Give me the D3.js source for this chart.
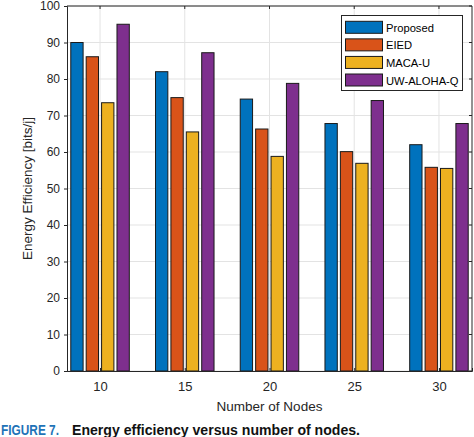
<!DOCTYPE html>
<html><head><meta charset="utf-8">
<script src="https://cdn.jsdelivr.net/npm/d3@7"></script>
<style>
html,body{margin:0;padding:0;background:#fff;}
svg{display:block;font-family:"Liberation Sans",Arial,sans-serif;}
</style></head>
<body>
<svg id="chart" width="474" height="437"></svg>
<script>
const nodes = [10, 15, 20, 25, 30];
const seriesNames = ["Proposed", "EIED", "MACA-U", "UW-ALOHA-Q"];
const proposed = [90.0, 82.0, 74.5, 67.8, 62.0];
const eied     = [86.1, 74.9, 66.3, 60.1, 55.8];
const macaU    = [73.5, 65.5, 58.8, 56.9, 55.5];
const uwAloha  = [95.0, 87.2, 78.8, 74.1, 67.8];
const yTicks = [0, 10, 20, 30, 40, 50, 60, 70, 80, 90, 100];
const colors = ["#0072BD", "#D95319", "#EDB120", "#7E2F8E"];

const seriesValues = [proposed, eied, macaU, uwAloha];
const svg = d3.select("#chart");
const L = 67, R = 472, T = 6, B = 371;

const x = d3.scaleLinear().domain([8.05, 31.95]).range([L, R]);
const y = d3.scaleLinear().domain([0, 100]).range([B, T]);
const groupW = (x(15) - x(10)) * 0.727;
const inner = d3.scaleBand().domain(seriesNames).range([-groupW / 2, groupW / 2]).paddingInner(0.2).paddingOuter(0.1);

// grid
const grid = svg.append("g");
grid.selectAll("line.gy").data(yTicks).join("line")
  .attr("x1", L).attr("x2", R).attr("y1", d => y(d)).attr("y2", d => y(d))
  .attr("stroke", "#e3e3e3").attr("stroke-width", 1);
grid.selectAll("line.gx").data(nodes).join("line")
  .attr("x1", d => x(d)).attr("x2", d => x(d)).attr("y1", T).attr("y2", B)
  .attr("stroke", "#e3e3e3").attr("stroke-width", 1);

// bars
const data = [];
nodes.forEach((n, i) => seriesNames.forEach((s, j) => data.push({n, s, j, v: seriesValues[j][i]})));
svg.append("g").selectAll("rect").data(data).join("rect")
  .attr("x", d => x(d.n) + inner(d.s))
  .attr("width", inner.bandwidth())
  .attr("y", d => y(d.v))
  .attr("height", d => y(0) - y(d.v))
  .attr("fill", d => colors[d.j])
  .attr("stroke", "#1a1a1a").attr("stroke-width", 1);

// axes
const axisColor = "#262626";
const yAxis = svg.append("g").attr("transform", `translate(${L},0)`)
  .call(d3.axisLeft(y).tickValues(yTicks).tickSize(3).tickPadding(4));
const xAxis = svg.append("g").attr("transform", `translate(0,${B})`)
  .call(d3.axisBottom(x).tickValues(nodes).tickSize(-3).tickPadding(11));
[yAxis, xAxis].forEach(a => {
  a.select(".domain").attr("stroke", axisColor);
  a.selectAll(".tick line").attr("stroke", axisColor);
  a.selectAll("text").attr("fill", axisColor).style("font-family", "Liberation Sans, Arial, sans-serif");
});
yAxis.selectAll("text").style("font-size", "12px");
xAxis.selectAll("text").style("font-size", "13px");
// top and right frame
svg.append("line").attr("x1", L).attr("x2", R).attr("y1", T).attr("y2", T).attr("stroke", axisColor);
svg.append("line").attr("x1", R).attr("x2", R).attr("y1", T).attr("y2", B).attr("stroke", axisColor);
svg.append("g").selectAll("line").data(yTicks).join("line")
  .attr("x1", R - 3).attr("x2", R).attr("y1", d => y(d)).attr("y2", d => y(d)).attr("stroke", axisColor);
svg.append("g").selectAll("line").data(nodes).join("line")
  .attr("x1", d => x(d)).attr("x2", d => x(d)).attr("y1", T).attr("y2", T + 3).attr("stroke", axisColor);

// axis labels
svg.append("text").attr("x", (L + R) / 2).attr("y", 411).attr("text-anchor", "middle")
  .attr("fill", axisColor).style("font-size", "13.5px").text("Number of Nodes");
svg.append("text").attr("transform", `translate(32,${(T + B) / 2}) rotate(-90)`).attr("text-anchor", "middle")
  .attr("fill", axisColor).style("font-size", "13.5px").text("Energy Efficiency [bits/j]");

// legend
const lg = svg.append("g");
lg.append("rect").attr("x", 341.5).attr("y", 15.5).attr("width", 121).attr("height", 75)
  .attr("fill", "#fff").attr("stroke", axisColor);
const ly = d3.scalePoint().domain(seriesNames).range([27.3, 80]);
lg.selectAll("rect.sw").data(seriesNames).join("rect").attr("class", "sw")
  .attr("x", 345.5).attr("width", 37).attr("y", d => ly(d) - 6).attr("height", 12)
  .attr("fill", (d, i) => colors[i]).attr("stroke", "#1a1a1a");
lg.selectAll("text").data(seriesNames).join("text")
  .attr("x", 386).attr("y", d => ly(d) + 4.5).attr("fill", "#000")
  .style("font-size", "11.2px").text(d => d);

// caption
svg.append("text").attr("x", 1).attr("y", 435).attr("textLength", 58).attr("lengthAdjust", "spacingAndGlyphs")
  .style("font-size", "14px").style("font-weight", "bold").attr("fill", "#1f73b7").text("FIGURE 7.");
svg.append("text").attr("x", 72).attr("y", 435).attr("textLength", 288).attr("lengthAdjust", "spacingAndGlyphs")
  .style("font-size", "14px").style("font-weight", "bold").attr("fill", "#111")
  .text("Energy efficiency versus number of nodes.");
</script>
</body></html>
